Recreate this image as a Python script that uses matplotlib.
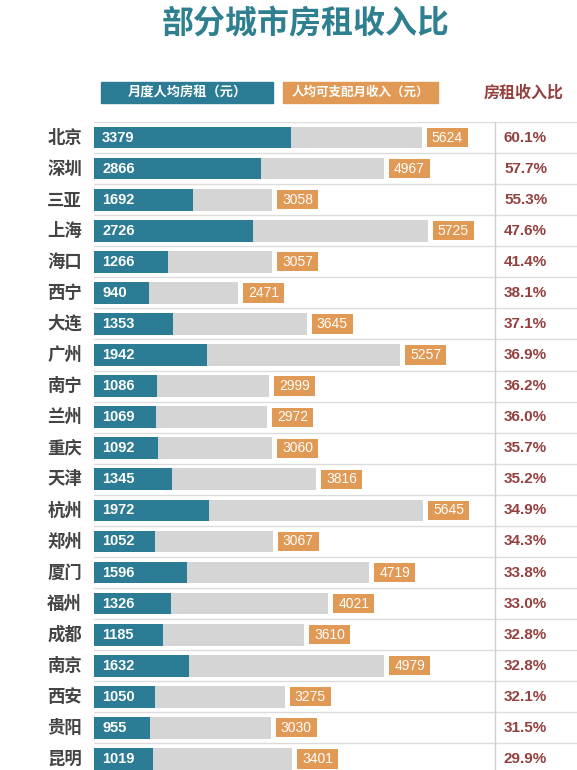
import matplotlib
matplotlib.use("Agg")
import matplotlib.pyplot as plt
from matplotlib.patches import Rectangle

cities = ['北京', '深圳', '三亚', '上海', '海口', '西宁', '大连', '广州', '南宁', '兰州', '重庆',
          '天津', '杭州', '郑州', '厦门', '福州', '成都', '南京', '西安', '贵阳', '昆明']
rent = [3379, 2866, 1692, 2726, 1266, 940, 1353, 1942, 1086, 1069, 1092,
        1345, 1972, 1052, 1596, 1326, 1185, 1632, 1050, 955, 1019]
income = [5624, 4967, 3058, 5725, 3057, 2471, 3645, 5257, 2999, 2972, 3060,
          3816, 5645, 3067, 4719, 4021, 3610, 4979, 3275, 3030, 3401]
ratio = ['60.1%', '57.7%', '55.3%', '47.6%', '41.4%', '38.1%', '37.1%', '36.9%', '36.2%', '36.0%', '35.7%',
         '35.2%', '34.9%', '34.3%', '33.8%', '33.0%', '32.8%', '32.8%', '32.1%', '31.5%', '29.9%']

title = '部分城市房租收入比'
legend_rent = '月度人均房租（元）'
legend_income = '人均可支配月收入（元）'
ratio_head = '房租收入比'

TEAL = '#2b7c94'
ORANGE = '#e19a55'
GREY = '#d5d5d5'
RED = '#93403f'
CJK = ['Noto Sans CJK SC', 'DejaVu Sans']
NUM = ['Liberation Sans', 'DejaVu Sans']

W, H = 577, 770
fig = plt.figure(figsize=(W / 100, H / 100), dpi=100)
fig.patch.set_facecolor('white')

# header drawn in pixel coordinates
hdr = fig.add_axes([0, 0, 1, 1])
hdr.set_xlim(0, W)
hdr.set_ylim(H, 0)
hdr.axis('off')
hdr.text(306, 24, title, ha='center', va='center', fontsize=23, fontweight='bold',
         color='#2e7f8f', family=CJK)
hdr.add_patch(Rectangle((101, 82), 172, 21, color=TEAL))
hdr.text(187, 92.5, legend_rent, ha='center', va='center', fontsize=9.5, fontweight='bold',
         color='white', family=CJK)
hdr.add_patch(Rectangle((283, 82), 155, 21, color=ORANGE))
hdr.text(360, 92.5, legend_income, ha='center', va='center', fontsize=9, fontweight='bold',
         color='white', family=CJK)
hdr.text(524, 92.5, ratio_head, ha='center', va='center', fontsize=11.5, fontweight='bold',
         color=RED, family=CJK)

# bars
px = 0.0583          # pixels per yuan
x0, top, row = 94, 122, 31.07
ax = fig.add_axes([x0 / W, 0, (W - x0) / W, (H - top) / H])
ax.set_xlim(0, (W - x0) / px)
ax.set_ylim((H - top) / row - 0.5, -0.5)
ax.axis('off')

y = list(range(len(cities)))
gap = 5 / px
box_w = 41 / px
ax.barh(y, income, height=0.7, color=GREY, zorder=2)
ax.barh(y, rent, height=0.7, color=TEAL, zorder=3)
ax.barh(y, [box_w] * len(y), left=[v + gap for v in income], height=0.62, color=ORANGE, zorder=3)

for i in y:
    ax.text(8 / px, i, str(rent[i]), ha='left', va='center', fontsize=10.5, fontweight='bold',
            color='white', family=NUM, zorder=4)
    ax.text(income[i] + gap + box_w / 2, i, str(income[i]), ha='center', va='center',
            fontsize=10, color='white', family=NUM, zorder=4)
    ax.text(-12 / px, i, cities[i], ha='right', va='center', fontsize=12.5, fontweight='bold',
            color='#444444', family=CJK, clip_on=False)
    ax.text(410 / px, i, ratio[i], ha='left', va='center', fontsize=11, fontweight='bold',
            color=RED, family=NUM)

for i in range(-1, len(cities)):
    ax.axhline(i + 0.5, color='#dcdcdc', lw=1, zorder=1)
ax.axvline(401 / px, color='#d0d0d0', lw=1, zorder=1)
ax.axvline(-1 / px, color='#e4e4e4', lw=1, zorder=1)

fig.savefig('out.png', dpi=100, facecolor='white')
